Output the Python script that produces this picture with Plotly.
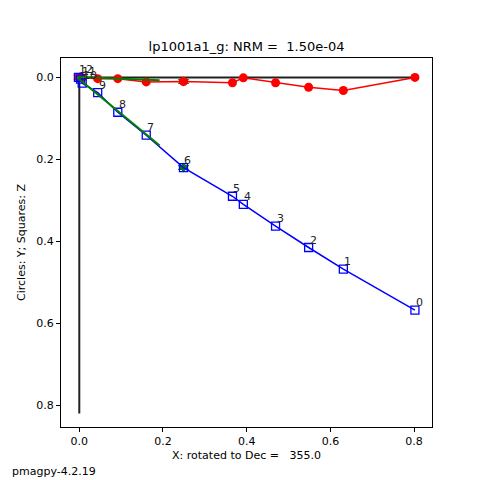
import plotly.graph_objects as go

# Zijderveld data (rotated to Dec = 355.0)
steps = ['0', '1', '2', '3', '4', '5', '6', '7', '8', '9', '10', '11', '12']
x_vals = [0.802, 0.631, 0.548, 0.469, 0.392, 0.366, 0.249, 0.160, 0.092, 0.044, 0.007, 0.003, -0.002]
y_vals = [0.000, 0.032, 0.024, 0.013, 0.001, 0.013, 0.010, 0.011, 0.003, 0.003, 0.001, 0.000, 0.000]
z_vals = [0.568, 0.468, 0.415, 0.363, 0.310, 0.290, 0.220, 0.141, 0.085, 0.037, 0.014, 0.004, 0.000]

# best-fit line (green) and fit bounds
fit_x = [-0.005, 0.192]
fit_y = [-0.001, 0.007]
fit_z = [0.000, 0.166]
bound_x = [0.249, 0.000]
bound_y = [0.010, 0.000]
bound_z = [0.220, 0.000]

# axis lines
axis_x = [0.0, 0.802]
axis_z = [0.0, 0.82]

fig = go.Figure()

fig.add_trace(go.Scatter(x=axis_x, y=[0, 0], mode='lines', line=dict(color='#222', width=2), showlegend=False))
fig.add_trace(go.Scatter(x=[0, 0], y=axis_z, mode='lines', line=dict(color='#222', width=2), showlegend=False))

# marqueurs verts des bornes du calcul
for yy in [bound_y, bound_z]:
    fig.add_trace(go.Scatter(x=bound_x, y=yy, mode='markers',
                             marker=dict(symbol='triangle-up', size=10, color='green'), showlegend=False))
    fig.add_trace(go.Scatter(x=bound_x, y=yy, mode='markers',
                             marker=dict(symbol='triangle-down', size=10, color='green'), showlegend=False))

# Circles: Y
fig.add_trace(go.Scatter(x=x_vals, y=y_vals, mode='lines+markers',
                         line=dict(color='red', width=1.5),
                         marker=dict(symbol='circle', size=9, color='red'), showlegend=False))
# Squares: Z
fig.add_trace(go.Scatter(x=x_vals, y=z_vals, mode='lines+markers',
                         line=dict(color='blue', width=1.5),
                         marker=dict(symbol='square-open', size=8, color='blue', line=dict(width=1.3)),
                         showlegend=False))

fig.add_trace(go.Scatter(x=fit_x, y=fit_y, mode='lines', line=dict(color='green', width=2), showlegend=False))
fig.add_trace(go.Scatter(x=fit_x, y=fit_z, mode='lines', line=dict(color='green', width=2), showlegend=False))

# step labels next to the squares
labels = [dict(text=s, x=xv, y=zv, xref='x', yref='y', xanchor='left', yanchor='bottom',
               xshift=-1, yshift=-1, showarrow=False, font=dict(size=11, color='#222'))
          for s, xv, zv in zip(steps, x_vals, z_vals)]
labels.append(dict(text='pmagpy-4.2.19', xref='paper', yref='paper', x=-0.1365, y=-0.12,
                   xanchor='left', yanchor='middle', showarrow=False, font=dict(size=11)))

axis_style = dict(showgrid=False, zeroline=False, showline=True, linecolor='black', linewidth=1,
                  mirror=True, ticks='outside', ticklen=4, tickcolor='black',
                  tickfont=dict(family='DejaVu Sans', size=11, color='black'))

fig.update_layout(
    width=480, height=480,
    margin=dict(l=61, r=48, t=58, b=53),
    plot_bgcolor='white', paper_bgcolor='white',
    font=dict(family='DejaVu Sans', color='black'),
    title=dict(text='lp1001a1_g: NRM =  1.50e-04', x=0.5, xref='paper', y=1 - 46 / 480,
               yanchor='middle', font=dict(size=13)),
    xaxis=dict(range=[-0.0437, 0.8428], tickvals=[0, 0.2, 0.4, 0.6, 0.8], ticktext=['0.0', '0.2', '0.4', '0.6', '0.8'],
               title=dict(text='X: rotated to Dec =   355.0', font=dict(size=11), standoff=4), **axis_style),
    yaxis=dict(range=[0.853, -0.0474], tickvals=[0, 0.2, 0.4, 0.6, 0.8], ticktext=['0.0', '0.2', '0.4', '0.6', '0.8'],
               title=dict(text='Circles: Y; Squares: Z', font=dict(size=11), standoff=8), **axis_style),
    annotations=labels,
)

fig.write_html('out.html', config={'displayModeBar': False},
               post_script="document.body.style.margin='0';")
